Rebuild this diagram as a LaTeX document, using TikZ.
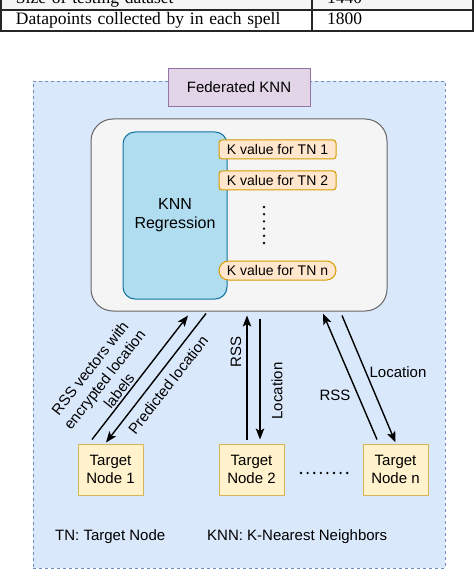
\documentclass[tikz,border=0pt]{standalone}
\usepackage{fontspec}
\setmainfont{Liberation Sans}
\newfontfamily\tabfont{Liberation Serif}
\usepackage{tikz}
\usetikzlibrary{positioning,calc}
\usetikzlibrary{arrows.meta}
\definecolor{FedBlue}{RGB}{218,232,252}
\definecolor{FedBlueLine}{RGB}{108,142,191}
\definecolor{FedPurple}{RGB}{225,213,231}
\definecolor{FedPurpleLine}{RGB}{150,115,166}
\definecolor{SrvGray}{RGB}{245,245,245}
\definecolor{SrvLine}{RGB}{102,102,102}
\definecolor{KnnBlue}{RGB}{177,221,240}
\definecolor{KnnLine}{RGB}{16,115,158}
\definecolor{KOrange}{RGB}{255,230,204}
\definecolor{KOrangeLine}{RGB}{215,155,0}
\definecolor{TnYellow}{RGB}{255,242,204}
\definecolor{TnLine}{RGB}{214,182,86}
\tikzset{
  cell/.style={draw=black!85,line width=1.3pt,inner xsep=15pt,inner ysep=0pt,
    minimum height=21pt,align=left,text height=12.5pt,text depth=4pt,
    font=\tabfont\fontsize{17.5}{20}\selectfont},
  outer/.style={draw=FedBlueLine,fill=FedBlue,dashed,line width=0.9pt,
    minimum width=412pt,minimum height=487pt},
  title/.style={draw=FedPurpleLine,fill=FedPurple,line width=0.8pt,
    minimum width=142pt,minimum height=38pt},
  server/.style={draw=SrvLine,fill=SrvGray,line width=1pt,rounded corners=22pt,
    minimum width=296pt,minimum height=192pt},
  knn/.style={draw=KnnLine,fill=KnnBlue,line width=1pt,rounded corners=12pt,
    minimum width=104pt,minimum height=167pt,align=center,
    font=\fontsize{16}{19}\selectfont},
  kval/.style={draw=KOrangeLine,fill=KOrange,line width=1pt,rounded corners=3pt,
    minimum width=117pt,minimum height=19pt,inner sep=0pt,
    font=\fontsize{14}{16}\selectfont},
  tnode/.style={draw=TnLine,fill=TnYellow,line width=1pt,
    minimum width=65pt,minimum height=51pt,align=center,inner sep=0pt},
  msg/.style={-{Stealth[length=11pt,width=8.5pt,inset=2.5pt]},line width=1.4pt},
  lbl/.style={align=center,inner sep=0pt},
}

\begin{document}
\begin{tikzpicture}[x=1pt,y=-1pt,font=\fontsize{15}{18.5}\selectfont]
\useasboundingbox (0,0) rectangle (474,569);
\clip (0,0) rectangle (474,569);
% table rows above the figure
\node[cell,fill=black!4,text width=281pt] (r1a) at (156.5,-1) {Size of testing dataset};
\node[cell,fill=black!4,text width=131pt] (r1b) at (392.5,-1) {1440};
\node[cell,text width=281pt] (r2a) at (156.5,20.5) {Datapoints collected by in each spell};
\node[cell,text width=131pt] (r2b) at (392.5,20.5) {1800};
% boxes
\node[outer] (fl) at (239,324.5) {};
\node[title] (fed) at (239,87) {Federated KNN};
\node[server] (srv) at (239,215) {};
\node[knn] (reg) at (175,215.5) {KNN\\Regression};
\node[kval] (k1) at (277.5,149.5) {K value for TN 1};
\node[kval] (k2) at (277.5,180.5) {K value for TN 2};
\node[kval,rounded corners=9.5pt] (kn) at (277.5,270.5) {K value for TN n};
\foreach \i in {0,...,5}
  \fill (264,207+7.2*\i) circle (1.3pt);
\node[tnode] (tn1) at (110.5,469.5) {Target\\Node 1};
\node[tnode] (tn2) at (251.5,469.5) {Target\\Node 2};
\node[tnode] (tnn) at (395.5,469.5) {Target\\Node n};
\foreach \i in {0,...,7}
  \fill (301+6.6*\i,473) circle (1.3pt);
% messages
\draw[msg] ([xshift=-18.5pt,yshift=4pt]tn1.north) -- ([xshift=-51pt,yshift=-4pt]srv.south);
\draw[msg] ([xshift=-33pt,yshift=-2pt]srv.south) -- ([xshift=-4.5pt,yshift=1pt]tn1.north);
\draw[msg] ([xshift=-4.5pt,yshift=4pt]tn2.north) -- ([xshift=8pt,yshift=-4pt]srv.south);
\draw[msg] ([xshift=21pt,yshift=-7pt]srv.south) -- ([xshift=8.5pt,yshift=4pt]tn2.north);
\draw[msg] ([xshift=-18.5pt,yshift=4pt]tnn.north) -- ([xshift=84pt,yshift=-2pt]srv.south);
\draw[msg] ([xshift=103pt,yshift=-4pt]srv.south) -- ([xshift=0pt,yshift=1pt]tnn.north);
% labels
\node[lbl,rotate=52] (l1) at (104.5,379.5) {RSS vectors with\\encrypted location\\labels};
\node[lbl,rotate=52] (l2) at (168,385) {Predicted location};
\node[lbl,rotate=90] (l3) at (236,352) {RSS};
\node[lbl,rotate=90] (l4) at (277,391) {Location};
\node[lbl] (l5) at (398,372) {Location};
\node[lbl] (l6) at (335,395) {RSS};
\node[lbl,anchor=west] (key1) at (55,537) {TN: Target Node};
\node[lbl,anchor=west] (key2) at (207,537) {KNN: K-Nearest Neighbors};
\end{tikzpicture}
\end{document}
